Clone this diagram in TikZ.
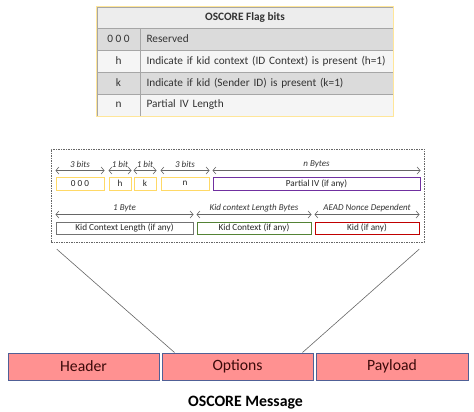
\documentclass[tikz,border=0pt]{standalone}
\usepackage{fontspec}
\setmainfont{Carlito}
\usetikzlibrary{arrows.meta,positioning,calc}
\definecolor{tableyellow}{RGB}{255,230,153}
\definecolor{cellgray}{RGB}{166,166,166}
\definecolor{flagyellow}{RGB}{255,217,102}
\definecolor{ivpurple}{RGB}{112,48,160}
\definecolor{ctxgreen}{RGB}{84,130,53}
\definecolor{kidred}{RGB}{192,0,0}
\definecolor{msgpink}{RGB}{255,145,145}
\definecolor{msgedge}{RGB}{80,96,150}
\definecolor{msgtext}{RGB}{60,10,10}

\begin{document}
\begin{tikzpicture}[x=1pt, y=-1pt,
    cell/.style={draw=cellgray, line width=0.8pt, minimum height=22pt, inner sep=0pt, text=black!80, font=\fontsize{11.3}{13}\selectfont},
    field/.style={draw, line width=1pt, inner sep=0pt, text=black!85, font=\fontsize{9.2}{11}\selectfont},
    span/.style={<->, >={Straight Barb[length=3pt, width=7pt]}, draw=black!60, line width=0.6pt},
    lbl/.style={above=2.5pt, inner sep=0pt, text=black!80, font=\itshape\fontsize{9}{10}\selectfont},
    msg/.style={draw=msgedge, fill=msgpink, line width=0.9pt, minimum width=151pt, minimum height=27pt, text=msgtext, font=\fontsize{15.7}{18}\selectfont}]
    \useasboundingbox (0,0) rectangle (474,412);

    % flag bits table
    \node[cell, fill=black!7, minimum width=296pt, minimum height=21pt, font=\bfseries\fontsize{11.3}{13}\selectfont] (thead) at (245,17.5) {OSCORE Flag bits};
    \node[cell, fill=black!14, minimum width=43pt] (k0) at (118.5,39) {0\hspace{2.5pt}0\hspace{2.5pt}0};
    \node[cell, fill=black!14, minimum width=253pt, text width=240pt, inner xsep=6.5pt] (v0) at (266.5,39) {Reserved};
    \node[cell, fill=black!4, minimum width=43pt] (k1) at (118.5,61) {h};
    \node[cell, fill=black!4, minimum width=253pt, text width=240pt, inner xsep=6.5pt] (v1) at (266.5,61) {Indicate if kid context (ID Context) is present (h=1)};
    \node[cell, fill=black!14, minimum width=43pt] (k2) at (118.5,83) {k};
    \node[cell, fill=black!14, minimum width=253pt, text width=240pt, inner xsep=6.5pt] (v2) at (266.5,83) {Indicate if kid (Sender ID) is present (k=1)};
    \node[cell, fill=black!4, minimum width=43pt] (k3) at (118.5,105) {n};
    \node[cell, fill=black!4, minimum width=253pt, text width=240pt, inner xsep=6.5pt] (v3) at (266.5,105) {Partial IV Length};
    \draw[tableyellow, line width=1.5pt] (thead.north west) rectangle (v3.south east);

    % options detail
    \node[draw=black!60, dash pattern=on 1.5pt off 1pt, minimum width=373pt, minimum height=93pt] (optbox) at (237.5,195.5) {};

    \node[field, draw=flagyellow, minimum width=48pt, minimum height=13pt] (f0) at (80,183.5) {0 0 0};
    \node[field, draw=flagyellow, minimum width=22pt, minimum height=13pt] (fh) at (120,183.5) {h};
    \node[field, draw=flagyellow, minimum width=22pt, minimum height=13pt] (fk) at (145,183.5) {k};
    \node[field, draw=flagyellow, minimum width=48pt, minimum height=13pt] (fn) at (185,183.5) {n};
    \node[field, draw=ivpurple, minimum width=207pt, minimum height=13pt] (piv) at (316.5,183.5) {Partial IV (if any)};

    \draw[span] ([yshift=6pt]f0.north west) -- node[lbl] {3 bits} ([yshift=6pt]f0.north east);
    \draw[span] ([yshift=6pt]fh.north west) -- node[lbl] {1 bit} ([yshift=6pt]fh.north east);
    \draw[span] ([yshift=6pt]fk.north west) -- node[lbl] {1 bit} ([yshift=6pt]fk.north east);
    \draw[span] ([yshift=6pt]fn.north west) -- node[lbl] {3 bits} ([yshift=6pt]fn.north east);
    \draw[span] ([yshift=6pt]piv.north west) -- node[lbl] {n Bytes} ([yshift=6pt]piv.north east);

    \node[field, draw=black!55, minimum width=137pt, minimum height=12pt] (kcl) at (124.5,228) {Kid Context Length (if any)};
    \node[field, draw=ctxgreen, minimum width=114pt, minimum height=12pt] (kctx) at (254,228) {Kid Context (if any)};
    \node[field, draw=kidred, minimum width=104pt, minimum height=12pt] (kid) at (367,228) {Kid (if any)};

    \draw[span] ([yshift=7pt]kcl.north west) -- node[lbl] {1 Byte} ([yshift=7pt]kcl.north east);
    \draw[span] ([yshift=7pt]kctx.north west) -- node[lbl] {Kid context Length Bytes} ([yshift=7pt]kctx.north east);
    \draw[span] ([yshift=7pt]kid.north west) -- node[lbl] {AEAD Nonce Dependent} ([yshift=7pt]kid.north east);

    % OSCORE message
    \node[msg] (hdr) at (83.5,366.5) {Header};
    \node[msg] (opt) at (237.5,366.5) {Options};
    \node[msg, minimum width=152pt] (pay) at (392,366.5) {Payload};
    \node[font=\bfseries\fontsize{15.8}{19}\selectfont] (title) at (245.5,403) {OSCORE Message};

    \coordinate (zl) at ($(optbox.south west)+(6,7)$);
    \coordinate (zr) at ($(optbox.south east)+(-5,7)$);
    \draw[black!60, line width=0.6pt] (zl) -- ($(opt.north west)+(13,0)$);
    \draw[black!60, line width=0.6pt] (zr) -- ($(opt.north east)+(-11,0)$);
\end{tikzpicture}
\end{document}
